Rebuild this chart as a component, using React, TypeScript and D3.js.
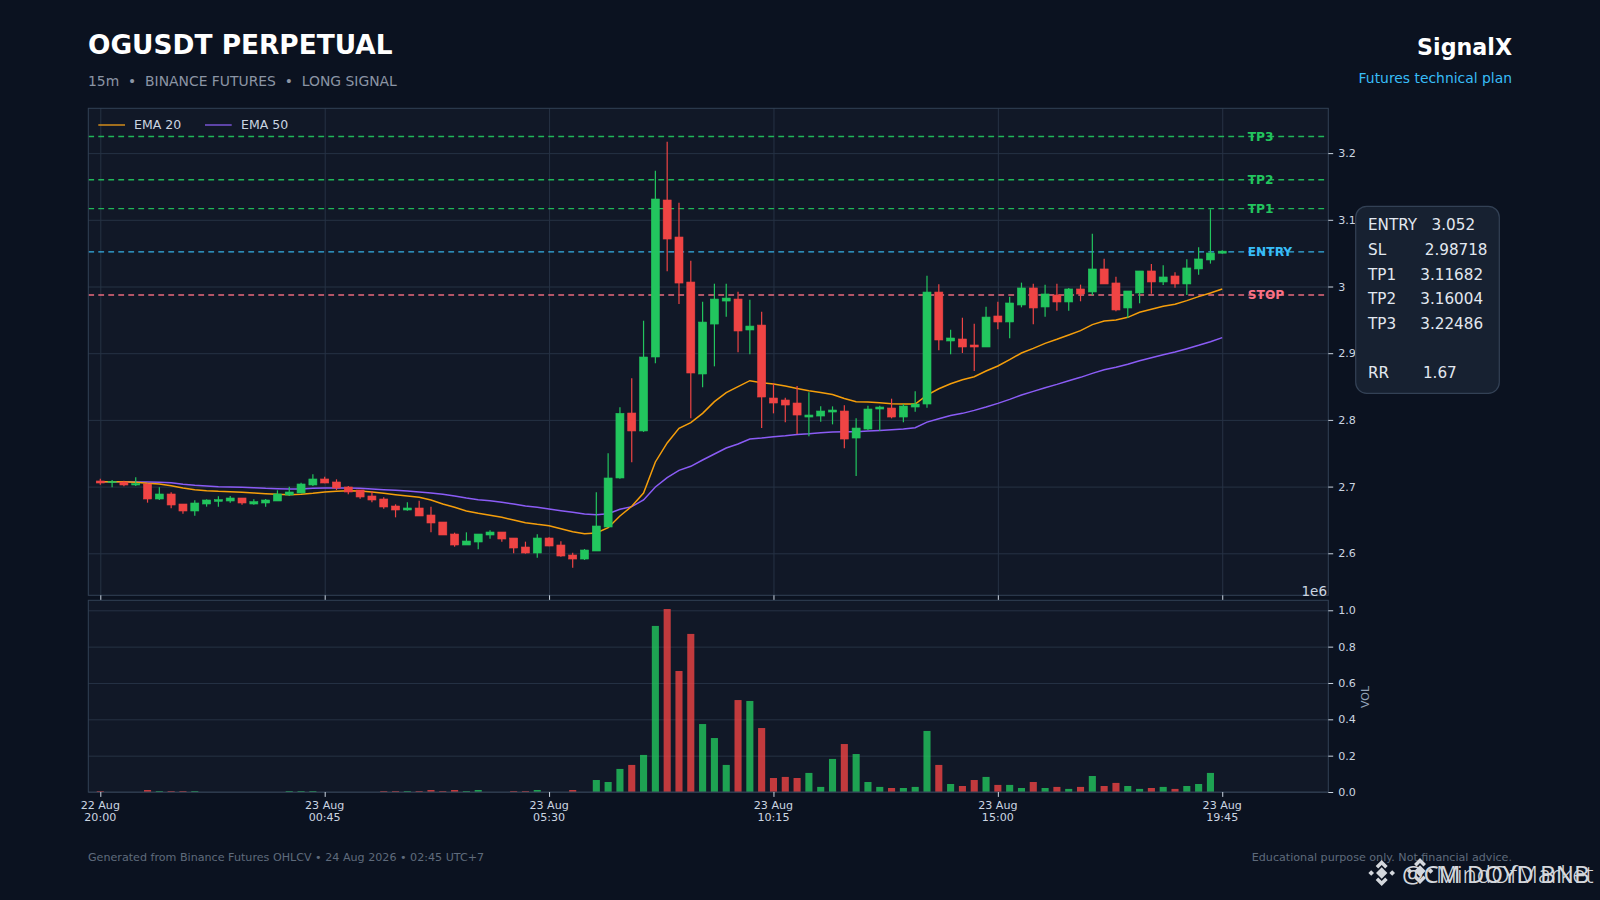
import { useEffect, useRef } from 'react'
import * as d3 from 'd3'

const opens = [
  2.7084, 2.7059, 2.7069, 2.7024, 2.7039, 2.6814, 2.6889, 2.6739, 2.6634, 2.6739, 2.6779, 2.6784,
  2.6829, 2.6739, 2.6754, 2.6784, 2.6874, 2.6904, 2.7024, 2.7114, 2.7069, 2.6994, 2.6949, 2.6859,
  2.6814, 2.6709, 2.6649, 2.6679, 2.6574, 2.6469, 2.6289, 2.6124, 2.6169, 2.6274, 2.6319, 2.6229,
  2.6094, 2.6004, 2.6229, 2.6124, 2.5974, 2.5914, 2.6034, 2.6394, 2.7129, 2.8103, 2.7834, 2.8943,
  3.1297, 3.0742, 3.0067, 2.8688, 2.9437, 2.9782, 2.9812, 2.9348, 2.9422, 2.8328, 2.8298, 2.8253,
  2.8043, 2.8058, 2.8118, 2.8133, 2.7728, 2.7863, 2.8163, 2.8178, 2.8043, 2.8193, 2.8238, 2.9917,
  2.9183, 2.9213, 2.9123, 2.9093, 2.9558, 2.9468, 2.9723, 2.9978, 2.9693, 2.9873, 2.9768, 2.9963,
  2.9918, 3.0263, 3.0053, 2.9678, 2.9903, 3.0233, 3.0068, 3.0158, 3.0038, 3.0263, 3.0398, 3.05,
]
const closes = [
  2.7054, 2.7074, 2.7024, 2.7044, 2.6814, 2.6889, 2.6724, 2.6634, 2.6754, 2.6799, 2.6804, 2.6829,
  2.6754, 2.6774, 2.6799, 2.6889, 2.6919, 2.7039, 2.7114, 2.7054, 2.6979, 2.6919, 2.6844, 2.6799,
  2.6694, 2.6649, 2.6679, 2.6559, 2.6454, 2.6274, 2.6124, 2.6184, 2.6289, 2.6319, 2.6214, 2.6079,
  2.6004, 2.6229, 2.6109, 2.5959, 2.5914, 2.6049, 2.6409, 2.7129, 2.8098, 2.7834, 2.8943, 3.1312,
  3.0712, 3.0052, 2.8703, 2.9467, 2.9812, 2.9827, 2.9333, 2.9407, 2.8343, 2.8253, 2.8223, 2.8073,
  2.8073, 2.8133, 2.8148, 2.7713, 2.7878, 2.8163, 2.8193, 2.8043, 2.8208, 2.8238, 2.9917, 2.9198,
  2.9228, 2.9093, 2.9093, 2.9542, 2.9468, 2.9753, 2.9978, 2.9678, 2.9888, 2.9768, 2.9963, 2.9888,
  3.0263, 3.0038, 2.9648, 2.9933, 3.0233, 3.0068, 3.0143, 3.0038, 3.0278, 3.0413, 3.0502, 3.053,
]
const highs = [
  2.7119, 2.7099, 2.7089, 2.7139, 2.7049, 2.6989, 2.6914, 2.6739, 2.6794, 2.6809, 2.6854, 2.6859,
  2.6829, 2.6809, 2.6814, 2.6944, 2.6999, 2.7059, 2.7184, 2.7149, 2.7109, 2.7009, 2.6949, 2.6934,
  2.6839, 2.6734, 2.6764, 2.6789, 2.6699, 2.6469, 2.6309, 2.6314, 2.6289, 2.6344, 2.6319, 2.6229,
  2.6174, 2.6284, 2.6239, 2.6179, 2.6009, 2.6064, 2.6914, 2.7499, 2.8188, 2.8623, 2.9487, 3.1736,
  3.2171, 3.1257, 3.0387, 2.9772, 3.0042, 3.0042, 2.9922, 2.9802, 2.9622, 2.8548, 2.8333, 2.8508,
  2.8413, 2.8203, 2.8203, 2.8218, 2.8023, 2.8213, 2.8213, 2.8318, 2.8238, 2.8428, 3.0162, 3.0032,
  2.9353, 2.9532, 2.9442, 2.9697, 2.9773, 2.9848, 3.0058, 3.0043, 3.0028, 3.0043, 2.9978, 3.0028,
  3.0792, 3.0418, 3.0148, 2.9933, 3.0233, 3.0338, 3.0318, 3.0213, 3.0408, 3.0587, 3.1157, 3.0545,
]
const lows = [
  2.7029, 2.6989, 2.7004, 2.7009, 2.6759, 2.6799, 2.6674, 2.6594, 2.6564, 2.6699, 2.6699, 2.6759,
  2.6729, 2.6729, 2.6699, 2.6784, 2.6859, 2.6899, 2.7009, 2.7049, 2.6949, 2.6884, 2.6819, 2.6764,
  2.6669, 2.6539, 2.6639, 2.6559, 2.6314, 2.6274, 2.6099, 2.6124, 2.6059, 2.6219, 2.6174, 2.5999,
  2.5994, 2.5934, 2.6104, 2.5949, 2.5784, 2.5899, 2.6034, 2.6394, 2.7119, 2.7364, 2.782, 2.8848,
  3.0227, 2.9737, 2.8023, 2.8488, 2.8803, 2.9547, 2.9013, 2.8983, 2.7878, 2.8098, 2.7963, 2.7788,
  2.7753, 2.7973, 2.7933, 2.7573, 2.7159, 2.7848, 2.7833, 2.8023, 2.7963, 2.8123, 2.8183, 2.9043,
  2.8983, 2.9003, 2.8733, 2.9093, 2.9358, 2.9223, 2.9688, 2.9433, 2.9548, 2.9638, 2.9638, 2.9778,
  2.9868, 3.0038, 2.9628, 2.9528, 2.9748, 2.9893, 3.0023, 2.9983, 2.9873, 3.0178, 3.0343, 3.049,
]
const ema20 = [
  2.7074, 2.7074, 2.7074, 2.7064, 2.7049, 2.7039, 2.7014, 2.6979, 2.6954, 2.6939, 2.6929, 2.6924,
  2.6914, 2.6904, 2.6894, 2.6884, 2.6879, 2.6884, 2.6899, 2.6919, 2.6929, 2.6939, 2.6934, 2.6919,
  2.6899, 2.6879, 2.6859, 2.6839, 2.6799, 2.6739, 2.6689, 2.6634, 2.6599, 2.6569, 2.6539, 2.6499,
  2.6459, 2.6434, 2.6414, 2.6369, 2.6324, 2.6294, 2.6304, 2.6384, 2.6559, 2.6704, 2.6904, 2.7369,
  2.7654, 2.7873, 2.7958, 2.8098, 2.8273, 2.8408, 2.8498, 2.8588, 2.8557, 2.8537, 2.8507, 2.8472,
  2.8437, 2.8412, 2.8382, 2.8322, 2.8272, 2.8267, 2.8257, 2.8242, 2.8237, 2.8237, 2.8372, 2.8467,
  2.8542, 2.8603, 2.8648, 2.8733, 2.8808, 2.8903, 2.9003, 2.9073, 2.9148, 2.9208, 2.9273, 2.9338,
  2.9428, 2.9483, 2.9498, 2.9538, 2.9613, 2.9658, 2.9703, 2.9733, 2.9788, 2.9848, 2.9903, 2.9963,
]
const ema50 = [
  2.7074, 2.7074, 2.7074, 2.7069, 2.7069, 2.7064, 2.7059, 2.7034, 2.7019, 2.7009, 2.6999, 2.6994,
  2.6989, 2.6984, 2.6974, 2.6969, 2.6964, 2.6964, 2.6974, 2.6979, 2.6979, 2.6979, 2.6974, 2.6964,
  2.6954, 2.6944, 2.6934, 2.6919, 2.6904, 2.6884, 2.6859, 2.6829, 2.6804, 2.6789, 2.6764, 2.6739,
  2.6709, 2.6689, 2.6664, 2.6639, 2.6614, 2.6589, 2.6579, 2.6594, 2.6659, 2.6699, 2.6799, 2.6994,
  2.7135, 2.7243, 2.7304, 2.7399, 2.7489, 2.7579, 2.7639, 2.7714, 2.7727, 2.7747, 2.7762, 2.7782,
  2.7792, 2.7807, 2.7817, 2.7822, 2.7822, 2.7832, 2.7842, 2.7852, 2.7862, 2.7882, 2.7967, 2.8017,
  2.8067, 2.8098, 2.8143, 2.8193, 2.8248, 2.8308, 2.8373, 2.8428, 2.8483, 2.8533, 2.8588, 2.8638,
  2.8698, 2.8753, 2.8788, 2.8833, 2.8888, 2.8933, 2.8978, 2.9018, 2.9068, 2.9118, 2.9173, 2.9233,
]
// volume in millions, the axis carries the 1e6 offset
const volumes = [
  0.0055, 0, 0, 0, 0.011, 0.0055, 0.0055, 0.0055, 0.0055, 0, 0, 0,
  0, 0, 0, 0, 0.0055, 0.0055, 0.0055, 0, 0, 0, 0, 0,
  0.0055, 0.0055, 0.0055, 0.0055, 0.011, 0.0055, 0.011, 0.0055, 0.011, 0, 0, 0.0055,
  0.0055, 0.011, 0, 0, 0.011, 0, 0.066, 0.055, 0.127, 0.149, 0.204, 0.914,
  1.007, 0.666, 0.87, 0.374, 0.297, 0.149, 0.506, 0.501, 0.352, 0.077, 0.083, 0.077,
  0.105, 0.028, 0.182, 0.264, 0.209, 0.055, 0.028, 0.022, 0.022, 0.028, 0.336, 0.149,
  0.044, 0.033, 0.066, 0.083, 0.039, 0.039, 0.022, 0.055, 0.022, 0.028, 0.017, 0.028,
  0.088, 0.033, 0.05, 0.033, 0.017, 0.022, 0.028, 0.017, 0.033, 0.044, 0.105, 0,
]

const xTickIndex = [0, 19, 38, 57, 76, 95]
const xTickDates = ['22 Aug', '23 Aug', '23 Aug', '23 Aug', '23 Aug', '23 Aug']
const xTickTimes = ['20:00', '00:45', '05:30', '10:15', '15:00', '19:45']
const priceTicks = [2.6, 2.7, 2.8, 2.9, 3, 3.1, 3.2]
const volumeTicks = [0, 0.2, 0.4, 0.6, 0.8, 1]

const levelNames = ['TP3', 'TP2', 'TP1', 'ENTRY', 'STOP']
const levelValues = [3.22486, 3.16004, 3.11682, 3.052, 2.98718]
const levelColors = ['#22c55e', '#22c55e', '#22c55e', '#38bdf8', '#fb7185']

const infoLines = [
  'ENTRY   3.052',
  'SL        2.98718',
  'TP1     3.11682',
  'TP2     3.16004',
  'TP3     3.22486',
  '',
  'RR       1.67',
]

const GREEN = '#22c55e'
const RED = '#ef4444'
const font = '"DejaVu Sans", sans-serif'

const panel = { left: 88.3, right: 1328.3, top: 108.3, bottom: 595.3, volTop: 600.3, volBottom: 792 }

export default function App() {
  const priceAxisRef = useRef<SVGGElement | null>(null)
  const priceGridRef = useRef<SVGGElement | null>(null)
  const volAxisRef = useRef<SVGGElement | null>(null)
  const volGridRef = useRef<SVGGElement | null>(null)
  const xGridRef = useRef<SVGGElement | null>(null)
  const xTopRef = useRef<SVGGElement | null>(null)
  const xBottomRef = useRef<SVGGElement | null>(null)

  const x = d3.scaleLinear().domain([-1.016, 103.98]).range([panel.left, panel.right])
  const y = d3.scaleLinear().domain([2.537, 3.2672]).range([panel.bottom, panel.top])
  const yVol = d3.scaleLinear().domain([0, 1.055]).range([panel.volBottom, panel.volTop])
  const step = x(1) - x(0)

  const line = d3
    .line<number>()
    .x((_, i) => x(i))
    .y((d) => y(d))

  useEffect(() => {
    const width = panel.right - panel.left
    const styleAxis = (sel: d3.Selection<SVGGElement, unknown, null, undefined>) => {
      sel.select('.domain').remove()
      sel.selectAll('line').attr('stroke', '#cbd5e1').attr('stroke-width', 1)
      sel.selectAll('text').attr('fill', '#cbd5e1').attr('font-size', 11.1).attr('font-family', font)
    }
    const styleGrid = (sel: d3.Selection<SVGGElement, unknown, null, undefined>) => {
      sel.select('.domain').remove()
      sel.selectAll('line').attr('stroke', '#263244').attr('stroke-width', 1)
    }

    d3.select(priceAxisRef.current!)
      .call(d3.axisRight(y).tickValues(priceTicks).tickSize(4.9).tickPadding(5).tickFormat(d3.format('~g') as any))
      .call(styleAxis)
    d3.select(volAxisRef.current!)
      .call(d3.axisRight(yVol).tickValues(volumeTicks).tickSize(4.9).tickPadding(5).tickFormat(d3.format('.1f') as any))
      .call(styleAxis)
    d3.select(priceGridRef.current!)
      .call(d3.axisLeft(y).tickValues(priceTicks).tickSize(-width).tickFormat(() => ''))
      .call(styleGrid)
    d3.select(volGridRef.current!)
      .call(d3.axisLeft(yVol).tickValues(volumeTicks).tickSize(-width).tickFormat(() => ''))
      .call(styleGrid)
    d3.select(xGridRef.current!)
      .call(d3.axisBottom(x).tickValues(xTickIndex).tickSize(-(panel.bottom - panel.top)).tickFormat(() => ''))
      .call(styleGrid)
    d3.select(xTopRef.current!)
      .call(d3.axisBottom(x).tickValues(xTickIndex).tickSize(4.9).tickFormat(() => ''))
      .call(styleAxis)
    d3.select(xBottomRef.current!)
      .call(d3.axisBottom(x).tickValues(xTickIndex).tickSize(4.9).tickFormat(() => ''))
      .call(styleAxis)
  }, [])

  return (
    <>
      <style>{`html,body{margin:0;padding:0;background:#0b1220}svg{display:block}`}</style>
      <svg width={1600} height={900} viewBox="0 0 1600 900" fontFamily={font}>
        <rect width={1600} height={900} fill="#0b1220" />

        <text x={88} y={54} fontSize={26.4} fontWeight={700} fill="#ffffff">OGUSDT PERPETUAL</text>
        <text x={88} y={86} fontSize={13.9} fill="#8b95a5" xmlSpace="preserve">15m  •  BINANCE FUTURES  •  LONG SIGNAL</text>
        <text x={1512} y={55} fontSize={22.2} fontWeight={700} fill="#ffffff" textAnchor="end">SignalX</text>
        <text x={1512} y={83} fontSize={13.9} fill="#38bdf8" textAnchor="end">Futures technical plan</text>

        {/* price panel */}
        <rect x={panel.left} y={panel.top} width={panel.right - panel.left} height={panel.bottom - panel.top} fill="#111827" />
        <g ref={priceGridRef} transform={`translate(${panel.left},0)`} />
        <g ref={xGridRef} transform={`translate(0,${panel.bottom})`} />

        {levelValues.map((v, i) => (
          <line key={levelNames[i]} x1={panel.left} x2={panel.right} y1={y(v)} y2={y(v)} stroke={levelColors[i]} strokeWidth={1.4} strokeDasharray="5.8 4.2" opacity={0.92} />
        ))}

        <path d={line(ema50) ?? ''} fill="none" stroke="#8b5cf6" strokeWidth={1.5} />
        <path d={line(ema20) ?? ''} fill="none" stroke="#f59e0b" strokeWidth={1.5} />

        {opens.map((open, i) => {
          const up = closes[i] >= open
          const color = up ? GREEN : RED
          const top = y(Math.max(open, closes[i]))
          const bottom = y(Math.min(open, closes[i]))
          return (
            <g key={i}>
              <line x1={x(i)} x2={x(i)} y1={y(highs[i])} y2={y(lows[i])} stroke={color} strokeWidth={1.2} />
              <rect x={x(i) - step * 0.34} y={top} width={step * 0.68} height={Math.max(bottom - top, 1)} fill={color} stroke={color} strokeWidth={0.6} />
            </g>
          )
        })}

        {levelNames.map((name, i) => (
          <text key={name} x={1247.8} y={y(levelValues[i]) + 0.5} fontSize={12.2} fontWeight={700} fill={levelColors[i]} dominantBaseline="middle">{name}</text>
        ))}

        <line x1={98.3} x2={125} y1={125} y2={125} stroke="#c6851c" strokeWidth={1.6} />
        <text x={134} y={128.7} fontSize={12.5} fill="#cbd5e1">EMA 20</text>
        <line x1={205} x2={231.7} y1={125} y2={125} stroke="#7150c8" strokeWidth={1.6} />
        <text x={241} y={128.7} fontSize={12.5} fill="#cbd5e1">EMA 50</text>

        <rect x={panel.left} y={panel.top} width={panel.right - panel.left} height={panel.bottom - panel.top} fill="none" stroke="#334155" strokeWidth={1} />
        <g ref={priceAxisRef} transform={`translate(${panel.right},0)`} />
        <g ref={xTopRef} transform={`translate(0,${panel.bottom})`} />
        <text x={1327} y={596} fontSize={13.5} fill="#cbd5e1" textAnchor="end">1e6</text>

        {/* volume panel */}
        <rect x={panel.left} y={panel.volTop} width={panel.right - panel.left} height={panel.volBottom - panel.volTop} fill="#111827" />
        <g ref={volGridRef} transform={`translate(${panel.left},0)`} />
        {volumes.map((v, i) => (
          <rect key={i} x={x(i) - step * 0.3} y={yVol(v)} width={step * 0.6} height={panel.volBottom - yVol(v)} fill={closes[i] >= opens[i] ? GREEN : RED} opacity={0.8} />
        ))}
        <rect x={panel.left} y={panel.volTop} width={panel.right - panel.left} height={panel.volBottom - panel.volTop} fill="none" stroke="#334155" strokeWidth={1} />
        <g ref={volAxisRef} transform={`translate(${panel.right},0)`} />
        <g ref={xBottomRef} transform={`translate(0,${panel.volBottom})`} />
        <text transform="translate(1369,697) rotate(-90)" fontSize={11} fill="#94a3b8" textAnchor="middle">VOL</text>

        {xTickIndex.map((t, i) => (
          <g key={t} fontSize={11.1} fill="#cbd5e1" textAnchor="middle">
            <text x={x(t)} y={809}>{xTickDates[i]}</text>
            <text x={x(t)} y={821}>{xTickTimes[i]}</text>
          </g>
        ))}

        {/* plan box */}
        <rect x={1355.7} y={206.3} width={143.6} height={187} rx={11} fill="#172131" stroke="#334155" strokeWidth={1.2} />
        {infoLines.map((text, i) => (
          <text key={i} x={1368} y={230.3 + i * 24.65} fontSize={15.2} fill="#e2e8f0" xmlSpace="preserve">{text}</text>
        ))}

        <text x={88} y={861} fontSize={11.14} fill="#5f6b7c">Generated from Binance Futures OHLCV • 24 Aug 2026 • 02:45 UTC+7</text>
        <text x={1512} y={861} fontSize={11.14} fill="#5f6b7c" textAnchor="end">Educational purpose only. Not financial advice.</text>

        {/* overlapping watermarks */}
        <g fill="#d4d7dc">
          {[[1381.7, 873], [1420, 871]].map(([cx, cy]) => (
            <g key={cx} transform={`translate(${cx},${cy})`}>
              <rect x={-4} y={-4} width={8} height={8} transform="rotate(45)" />
              <path d="M0,-13 L6,-7 L3.5,-4.5 L0,-8 L-3.5,-4.5 L-6,-7 Z" />
              <path d="M0,13 L6,7 L3.5,4.5 L0,8 L-3.5,4.5 L-6,7 Z" />
              <rect x={-12.5} y={-2} width={4} height={4} transform="rotate(45 -10.5 0)" />
              <rect x={8.5} y={-2} width={4} height={4} transform="rotate(45 10.5 0)" />
            </g>
          ))}
          <text x={1402} y={883} fontSize={24} fontFamily='"Noto Sans", sans-serif'>@CM DOYD BNB</text>
          <text x={1436} y={883} fontSize={24} fontFamily='"Noto Sans", sans-serif' fontWeight={300}>MindOfMarket</text>
        </g>
      </svg>
    </>
  )
}
